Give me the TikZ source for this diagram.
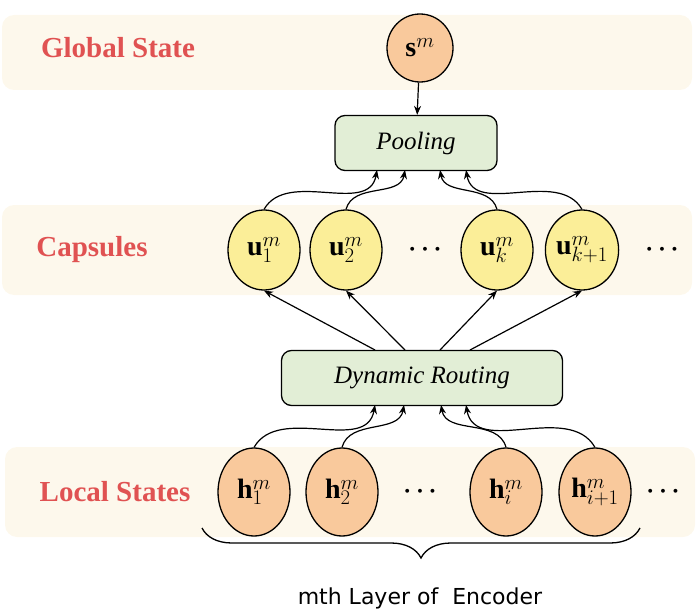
\documentclass[tikz,border=0pt]{standalone}
\usepackage{fontspec}
\setmainfont{Liberation Serif}
\newfontfamily\notefont{DejaVu Sans}
\usetikzlibrary{arrows.meta, decorations.pathreplacing, shapes.geometric}
\definecolor{bandc}{HTML}{FDF8EC}
\definecolor{labc}{HTML}{E05252}
\definecolor{orc}{HTML}{F9C99C}
\definecolor{yelc}{HTML}{FBEE98}
\definecolor{grc}{HTML}{E2EED6}
\tikzset{
  band/.style={fill=bandc, rounded corners=12pt, draw=none},
  lab/.style={text=labc, font=\bfseries\fontsize{29}{31}\selectfont},
  unit/.style={ellipse, draw, line width=1.3pt, minimum width=72pt, inner sep=0pt, font=\fontsize{28}{30}\selectfont},
  box/.style={draw, line width=1.3pt, fill=grc, rounded corners=10pt, font=\itshape\fontsize{25}{27}\selectfont},
  dots/.style={font=\boldmath\fontsize{28}{28}\selectfont},
  arr/.style={-{Stealth[length=9pt,width=7pt]}, line width=1.2pt},
}
\begin{document}
\begin{tikzpicture}[x=1pt, y=-1pt]
\useasboundingbox (0,0) rectangle (699,615);
% bands
\fill[band] (2,15) rectangle (692,90);
\fill[band] (2,205) rectangle (692,295);
\fill[band] (5,447) rectangle (695,537);
% labels
\node[lab] (lg) at (118,48) {Global State};
\node[lab] (lc) at (92,250) {Capsules};
\node[lab] (ll) at (115,492) {Local States};
% top
\node[unit, fill=orc, minimum width=66pt, minimum height=68pt] (s) at (420,48) {$\mathbf{s}^m$};
\node[box, minimum width=162pt, minimum height=55pt] (pool) at (416,143) {Pooling};
\node[box, minimum width=281pt, minimum height=55pt] (dr) at (422,378) {Dynamic Routing};
% capsules
\node[unit, fill=yelc, minimum height=80pt] (u1) at (264,250) {$\mathbf{u}^m_1$};
\node[unit, fill=yelc, minimum height=80pt] (u2) at (346,250) {$\mathbf{u}^m_2$};
\node[dots] (ud1) at (425,250) {$\cdots$};
\node[unit, fill=yelc, minimum height=80pt] (uk) at (497,250) {$\mathbf{u}^m_k$};
\node[unit, fill=yelc, minimum height=80pt] (uk1) at (582,250) {$\mathbf{u}^m_{k+1}$};
\node[dots] (ud2) at (662,250) {$\cdots$};
% local states
\node[unit, fill=orc, minimum height=88pt] (h1) at (254,492) {$\mathbf{h}^m_1$};
\node[unit, fill=orc, minimum height=88pt] (h2) at (342,492) {$\mathbf{h}^m_2$};
\node[dots] (hd1) at (420,492) {$\cdots$};
\node[unit, fill=orc, minimum height=88pt] (hi) at (506,492) {$\mathbf{h}^m_i$};
\node[unit, fill=orc, minimum height=88pt] (hi1) at (595,492) {$\mathbf{h}^m_{i+1}$};
\node[dots] (hd2) at (663,492) {$\cdots$};
% anchor points
\coordinate (p1) at (377,170); \coordinate (p2) at (405,170);
\coordinate (p3) at (440,170); \coordinate (p4) at (466,170);
\coordinate (d1) at (375,405); \coordinate (d2) at (404,405);
\coordinate (d3) at (441,405); \coordinate (d4) at (466,405);
\coordinate (t1) at (375,350); \coordinate (t2) at (405,350);
\coordinate (t3) at (440,350); \coordinate (t4) at (470,350);
% connectors
\draw[arr] (s) -- (pool);
\draw[arr] (u1.north) to[out=60, in=-100] (p1);
\draw[arr] (u2.north) to[out=75, in=-100] (p2);
\draw[arr] (uk.north) to[out=105, in=-80] (p3);
\draw[arr] (uk1.north) to[out=120, in=-80] (p4);
\draw[arr] (t1) -- (u1.south);
\draw[arr] (t2) -- (u2.south);
\draw[arr] (t3) -- (uk.south);
\draw[arr] (t4) -- (uk1.south);
\draw[arr] (h1.north) to[out=60, in=-100] (d1);
\draw[arr] (h2.north) to[out=75, in=-100] (d2);
\draw[arr] (hi.north) to[out=105, in=-80] (d3);
\draw[arr] (hi1.north) to[out=120, in=-80] (d4);
% brace
\coordinate (b1) at (640,528); \coordinate (b2) at (202,528);
\draw[line width=1.3pt, decorate, decoration={brace, amplitude=30pt}] (b1) -- (b2);
\node[font=\notefont\fontsize{22}{24}\selectfont] (cap) at (420,598) {mth Layer of\ \ Encoder};
\end{tikzpicture}
\end{document}
